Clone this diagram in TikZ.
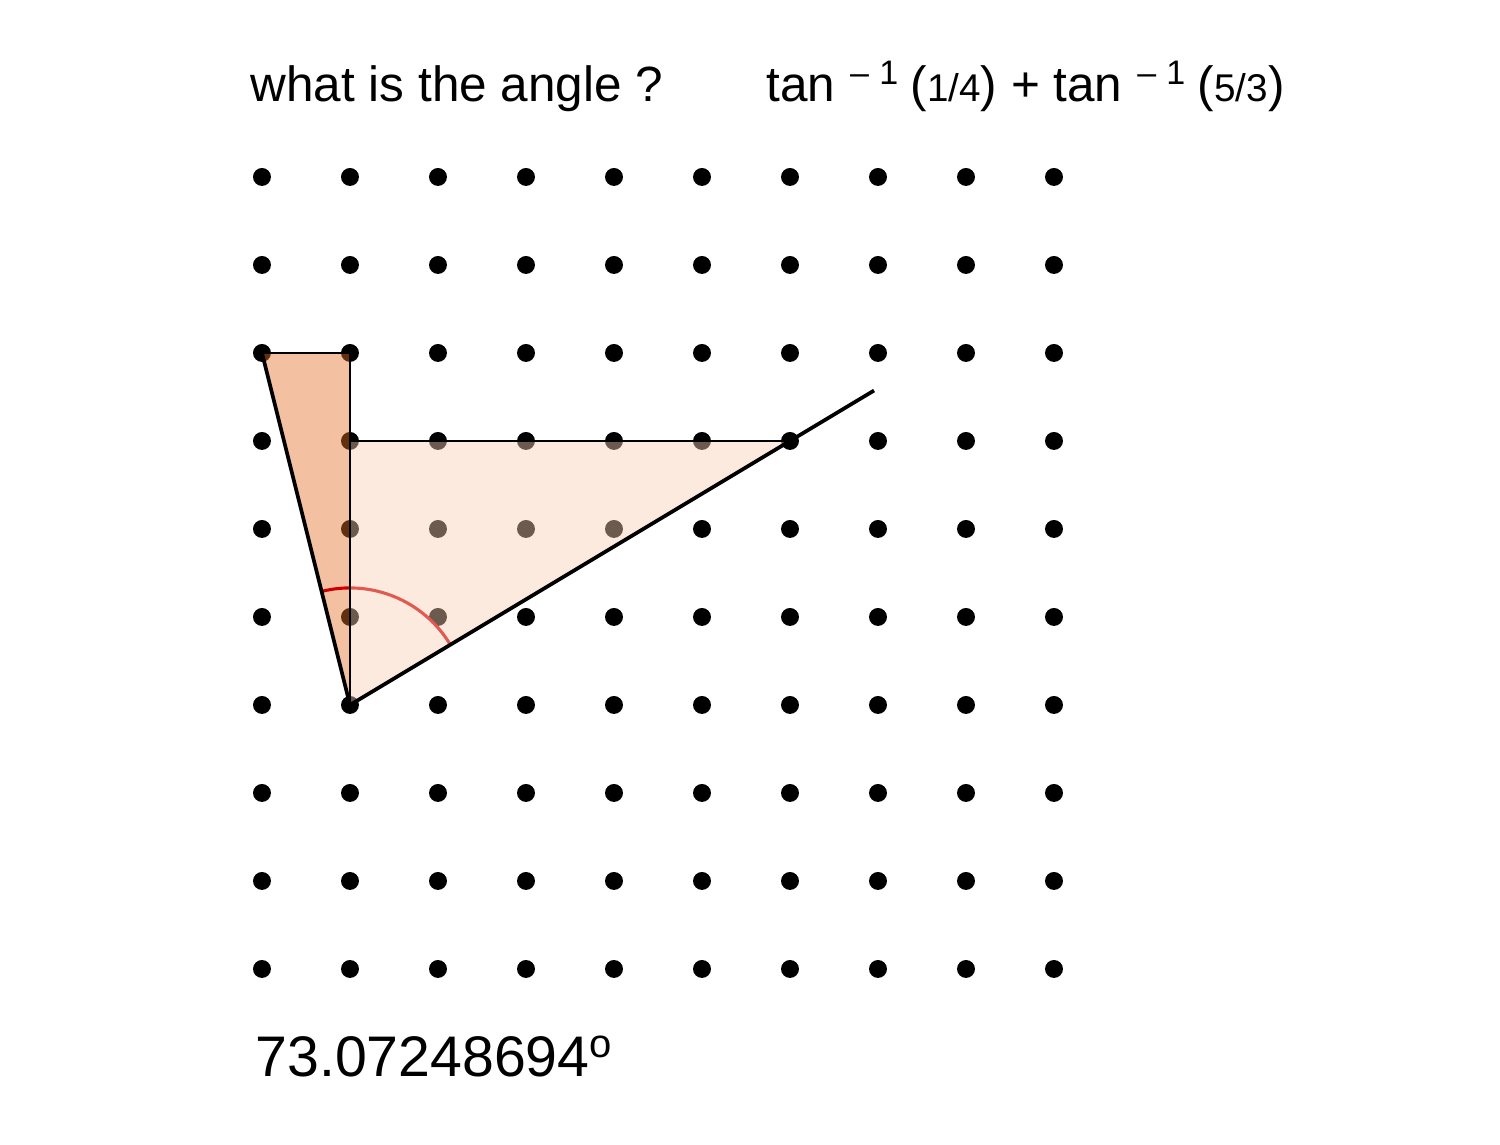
\documentclass[tikz,border=0pt]{standalone}
\usepackage{fontspec}
\setmainfont{Liberation Sans}
\definecolor{orangedark}{RGB}{228,112,36}
\definecolor{orangelight}{RGB}{250,207,182}
\definecolor{arcred}{RGB}{204,0,0}
\newcommand{\supsz}{\fontsize{11}{11}\selectfont}
\newcommand{\fracsz}{\fontsize{12.5}{12.5}\selectfont}
\begin{document}
\begin{tikzpicture}
	[dot/.style={fill=black},
	edge/.style={line width=0.75pt,black},
	side/.style={line width=1.2pt,black},
	anglearc/.style={line width=1pt,arcred},
	darkfill/.style={fill=orangedark,fill opacity=0.43},
	lightfill/.style={fill=orangelight,fill opacity=0.44},
	txt/.style={inner sep=0pt,anchor=base west,font=\fontsize{16}{19}\selectfont}]
	\useasboundingbox (-2.977,-1.989) rectangle (14.068,11.011);
	% dot grid
	\foreach \x in {0,...,9}
		\foreach \y in {0,...,9}
			\fill[dot] (\x,\y) circle (0.102);
	\coordinate (A) at (0,7);
	\coordinate (B) at (1,7);
	\coordinate (C) at (1,6);
	\coordinate (D) at (6,6);
	\coordinate (O) at (1,3);
	\coordinate (E) at (6.955,6.573); % end of the ray through D
	\fill[darkfill] (A) -- (B) -- (O) -- cycle;
	\draw[anglearc] (O) ++(30.96:1.33) arc[start angle=30.96,end angle=104.04,radius=1.33];
	\fill[lightfill] (C) -- (D) -- (O) -- cycle;
	\draw[edge] (A) -- (B) -- (O);
	\draw[edge] (C) -- (D);
	\draw[side] (A) -- (O) -- (E);
	\node[txt] (question) at (-0.136,9.852) {what is the angle ?};
	\node[txt] (formula) at (5.727,9.852) {tan\hspace{0.3em}\raisebox{5.5pt}{\supsz –\hspace{0.3em}1}\hspace{0.25em}({\fracsz 1/4}) + tan\hspace{0.3em}\raisebox{5.5pt}{\supsz –\hspace{0.3em}1}\hspace{0.25em}({\fracsz 5/3})};
	\node[txt,font=\fontsize{18.5}{22}\selectfont] (result) at (-0.08,-1.227) {73.07248694\textsuperscript{o}};
\end{tikzpicture}
\end{document}
